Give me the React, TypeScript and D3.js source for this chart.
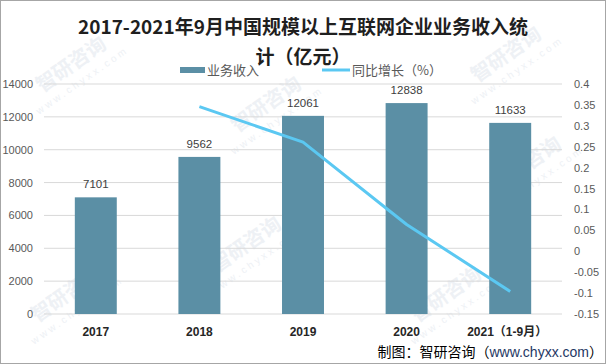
import * as d3 from "d3";

const categories = ["2017", "2018", "2019", "2020", "2021（1-9月）"];
const revenue = [7101, 9562, 12061, 12838, 11633];
const growth: (number | null)[] = [null, 0.346, 0.261, 0.064, -0.096];
const leftTicks = [0, 2000, 4000, 6000, 8000, 10000, 12000, 14000];
const rightTicks = [-0.15, -0.1, -0.05, 0, 0.05, 0.1, 0.15, 0.2, 0.25, 0.3, 0.35, 0.4];

const W = 606;
const H = 364;
const plot = { left: 44, right: 562, top: 84, bottom: 314 };
const barColor = "#5b8fa5";
const lineColor = "#5bc8f2";
const font = "'Liberation Sans', 'Noto Sans CJK SC', sans-serif";
const cjk = "'Noto Sans CJK SC', sans-serif";

const watermarks = [
  { x: 75, y: 70 },
  { x: 510, y: 60 },
  { x: 270, y: 110 },
  { x: 70, y: 300 },
  { x: 250, y: 250 },
  { x: 450, y: 300 },
  { x: 530, y: 170 },
];

export default function App() {
  const x = d3.scaleBand<string>().domain(categories).range([plot.left, plot.right]).padding(0);
  const yL = d3.scaleLinear().domain([0, 14000]).range([plot.bottom, plot.top]);
  const yR = d3.scaleLinear().domain([-0.15, 0.4]).range([plot.bottom, plot.top]);
  const barW = x.bandwidth() * 0.405;
  const cx = (c: string) => (x(c) ?? 0) + x.bandwidth() / 2;

  const linePts = categories
    .map((c, i) => ({ c, v: growth[i] }))
    .filter((d) => d.v !== null) as { c: string; v: number }[];
  const line = d3
    .line<{ c: string; v: number }>()
    .x((d) => cx(d.c))
    .y((d) => yR(d.v));

  return (
    <svg width={W} height={H} style={{ display: "block" }}>
      <style>{`body{margin:0}`}</style>
      <rect x={0} y={0} width={W} height={H} fill="#fff" />

      {/* watermarks */}
      {watermarks.map((w, i) => (
        <g key={i} transform={`translate(${w.x},${w.y}) rotate(-35)`}>
          <text textAnchor="middle" fontFamily={cjk} fontSize={20} fontWeight="bold" fill="#eef1f5">
            智研咨询
          </text>
          <text y={16} textAnchor="middle" fontFamily={font} fontSize={10} fill="#eef1f5" letterSpacing={3}>
            www.chyxx.com
          </text>
        </g>
      ))}

      {/* title */}
      <text x={303} y={34} textAnchor="middle" fontFamily={cjk} fontSize={19} fontWeight="bold" fill="#1f1f1f">
        2017-2021年9月中国规模以上互联网企业业务收入统
      </text>
      <text x={303} y={64} textAnchor="middle" fontFamily={cjk} fontSize={19} fontWeight="bold" fill="#1f1f1f">
        计（亿元）
      </text>

      {/* legend */}
      <rect x={180} y={67} width={25} height={6} fill={barColor} />
      <text x={207} y={75} fontFamily={cjk} fontSize={13} fill="#595959">
        业务收入
      </text>
      <line x1={322} x2={350} y1={70} y2={70} stroke={lineColor} strokeWidth={3} />
      <text x={352} y={75} fontFamily={cjk} fontSize={13} fill="#595959">
        同比增长（%）
      </text>

      {/* gridlines and axis labels */}
      {leftTicks.map((t) => (
        <g key={t}>
          <line x1={plot.left} x2={plot.right} y1={yL(t)} y2={yL(t)} stroke="#d9d9d9" strokeWidth={1} />
          <text x={33} y={yL(t) + 4} textAnchor="end" fontFamily={font} fontSize={11} fill="#595959">
            {t}
          </text>
        </g>
      ))}
      {rightTicks.map((t) => (
        <text key={t} x={574} y={yR(t) + 4} fontFamily={font} fontSize={11} fill="#595959">
          {String(t)}
        </text>
      ))}

      {/* bars */}
      {categories.map((c, i) => (
        <g key={c}>
          <rect
            x={cx(c) - barW / 2}
            y={yL(revenue[i])}
            width={barW}
            height={yL(0) - yL(revenue[i])}
            fill={barColor}
          />
          <text x={cx(c)} y={yL(revenue[i]) - 9} textAnchor="middle" fontFamily={font} fontSize={11.5} fill="#404040">
            {revenue[i]}
          </text>
          <text x={cx(c) - (i === 4 ? 3 : 0)} y={336} textAnchor="middle" fontFamily={font} fontSize={12} fontWeight="bold" fill="#262626">
            {c}
          </text>
        </g>
      ))}

      {/* growth line */}
      <path d={line(linePts) ?? ""} fill="none" stroke={lineColor} strokeWidth={3} strokeLinejoin="round" />

      {/* footer */}
      <text x={603} y={357} textAnchor="end" fontFamily={cjk} fontSize={14} fill="#000">
        制图：智研咨询（<tspan fill="#1f3864" fontFamily={font}>www.chyxx.com</tspan>）
      </text>

      <rect x={0.5} y={0.5} width={W - 1} height={H - 1} fill="none" stroke="#a6a6a6" />
    </svg>
  );
}
